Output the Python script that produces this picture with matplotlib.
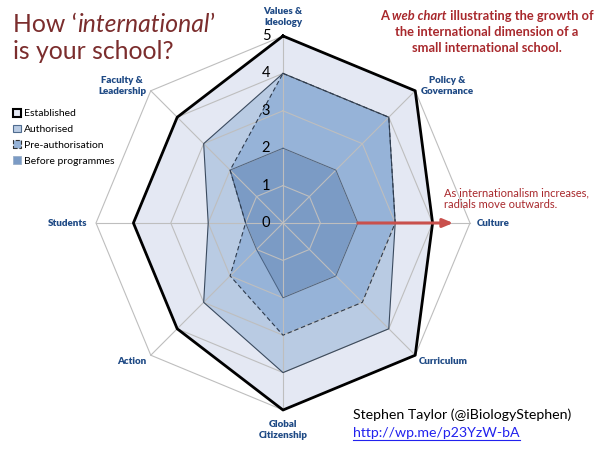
import numpy as np
import matplotlib
matplotlib.use('Agg')
import matplotlib.pyplot as plt
from matplotlib.patches import Patch
from matplotlib.lines import Line2D

# ---------------- data ----------------
categories = ['Values &\nIdeology', 'Policy &\nGovernance', 'Culture', 'Curriculum',
              'Global\nCitizenship', 'Action', 'Students', 'Faculty &\nLeadership']
series_names = ['Established', 'Authorised', 'Pre-authorisation', 'Before programmes']
established = [5, 5, 4, 5, 5, 4, 4, 4]
authorised = [4, 4, 3, 4, 4, 3, 2, 3]
pre_authorisation = [4, 4, 3, 3, 3, 2, 1, 2]
before_programmes = [2, 2, 2, 2, 2, 1, 1, 2]
radial_ticks = [0, 1, 2, 3, 4, 5]
arrow_range = [2, 4.55]  # along "Culture"

# ---------------- layout ----------------
W, H = 611, 457
FONT = 'Lato'
plt.rcParams['font.family'] = [FONT, 'DejaVu Sans']

fig = plt.figure(figsize=(W / 100, H / 100), dpi=100)
fig.patch.set_facecolor('white')

cx, cy, R = 283, 223, 187
ax = fig.add_axes([(cx - R) / W, 1 - (cy + R) / H, 2 * R / W, 2 * R / H], projection='polar')
ax.set_theta_zero_location('N')
ax.set_theta_direction(-1)
ax.axis('off')

n = len(categories)
theta = np.arange(n) * 2 * np.pi / n
theta_c = np.append(theta, theta[0])

def closed(v):
    return np.append(np.asarray(v, float), v[0])

fills = {
    'Established': '#E4E8F3',
    'Authorised': '#B9CBE3',
    'Pre-authorisation': '#96B3D8',
    'Before programmes': '#7B9BC5',
}
series = [established, authorised, pre_authorisation, before_programmes]

for z, (name, vals) in enumerate(zip(series_names, series)):
    ax.fill(theta_c, closed(vals), color=fills[name], zorder=1 + z, clip_on=False, lw=0)

# grid on top of fills
grid_c = '#BEBEBE'
for r in radial_ticks[1:]:
    ax.plot(theta_c, [r] * (n + 1), color=grid_c, lw=0.8, zorder=6, clip_on=False)
for th in theta:
    ax.plot([th, th], [0, radial_ticks[-1]], color=grid_c, lw=0.8, zorder=6, clip_on=False)

# outlines
ax.plot(theta_c, closed(established), color='black', lw=2.0, zorder=10, clip_on=False)
ax.plot(theta_c, closed(authorised), color='#3A4A5E', lw=0.8, zorder=9, clip_on=False)
ax.plot(theta_c, closed(pre_authorisation), color='#2E3B4D', lw=0.8, ls=(0, (4, 2.5)),
        zorder=9, clip_on=False)
ax.plot(theta_c, closed(before_programmes), color='#4A6282', lw=0.7, zorder=8, clip_on=False)
ax.set_ylim(0, radial_ticks[-1])

# radial tick labels
for v in radial_ticks:
    ax.annotate(str(v), xy=(0, v), xytext=(-17, 0), textcoords='offset pixels',
                ha='center', va='center', fontsize=10.5, color='black', zorder=12,
                annotation_clip=False)

# arrow along Culture
ax.annotate('', xy=(theta[2], arrow_range[1]), xytext=(theta[2], arrow_range[0]),
            arrowprops=dict(arrowstyle='-|>,head_length=0.6,head_width=0.25',
                            color='#C9504C', lw=2.2, shrinkA=0, shrinkB=0),
            zorder=13, annotation_clip=False)

# category labels
label_pos = [(283, 17), (447, 86), (493, 224), (443, 361),
             (283, 430), (132, 362), (68, 224), (122, 86)]
for lab, (x, y) in zip(categories, label_pos):
    fig.text(x / W, 1 - y / H, lab, ha='center', va='center', fontsize=7,
             fontweight='heavy', color='#1F4A85', linespacing=1.3)

renderer = fig.canvas.get_renderer()

def runs_line(x, y, runs, ha='left', **kw):
    texts = [fig.text(0, 0, s, va='baseline', ha='left', **st, **kw) for s, st in runs]
    widths = [t.get_window_extent(renderer).width for t in texts]
    total = sum(widths)
    cur = x if ha == 'left' else x - total / 2
    for t, w in zip(texts, widths):
        t.set_position((cur / W, 1 - y / H))
        cur += w
    return texts

# title
title_c = '#7B2D2D'
runs_line(13, 32, [('How \u2018', {}), ('international', {'style': 'italic'}), ('\u2019', {})],
          fontsize=17.8, color=title_c)
runs_line(13, 59, [('is your school?', {})], fontsize=17.8, color=title_c)

# subtitle
sub_c = '#A8282C'
runs_line(487, 20, [('A ', {}), ('web chart', {'style': 'italic'}),
                    (' illustrating the growth of', {})],
          ha='center', fontsize=9.3, fontweight='bold', color=sub_c)
runs_line(487, 36, [('the international dimension of a', {})], ha='center',
          fontsize=9.3, fontweight='bold', color=sub_c)
runs_line(487, 52, [('small international school.', {})], ha='center',
          fontsize=9.3, fontweight='bold', color=sub_c)

# annotation
fig.text(444 / W, 1 - 196 / H, 'As internationalism increases,', fontsize=8.0,
         color=sub_c, va='baseline')
fig.text(444 / W, 1 - 208 / H, 'radials move outwards.', fontsize=8.0,
         color=sub_c, va='baseline')

# credit
fig.text(353 / W, 1 - 419 / H, 'Stephen Taylor (@iBiologyStephen)', fontsize=10.2,
         color='black', va='baseline')
lt = fig.text(353 / W, 1 - 437 / H, 'http://wp.me/p23YzW-bA', fontsize=10.2,
              color='#2222EE', va='baseline')
bb = lt.get_window_extent(renderer)
fig.add_artist(Line2D([bb.x0 / W, bb.x1 / W], [(H - 439.5) / H] * 2, color='#2222EE', lw=0.8))

# legend
handles = [
    Patch(facecolor=fills['Established'], edgecolor='black', lw=1.5),
    Patch(facecolor=fills['Authorised'], edgecolor='#4F6C8F', lw=0.8),
    Patch(facecolor=fills['Pre-authorisation'], edgecolor='#333333', lw=0.8, ls='--'),
    Patch(facecolor=fills['Before programmes'], edgecolor='#9AAFC9', lw=0.6),
]
fig.legend(handles, series_names, loc='upper left', bbox_to_anchor=(13 / W, 1 - 109 / H),
           frameon=False, fontsize=7.5, handlelength=0.75, handleheight=0.75,
           handletextpad=0.35, labelspacing=0.6, borderpad=0, borderaxespad=0)

fig.savefig('out.png', dpi=100)
